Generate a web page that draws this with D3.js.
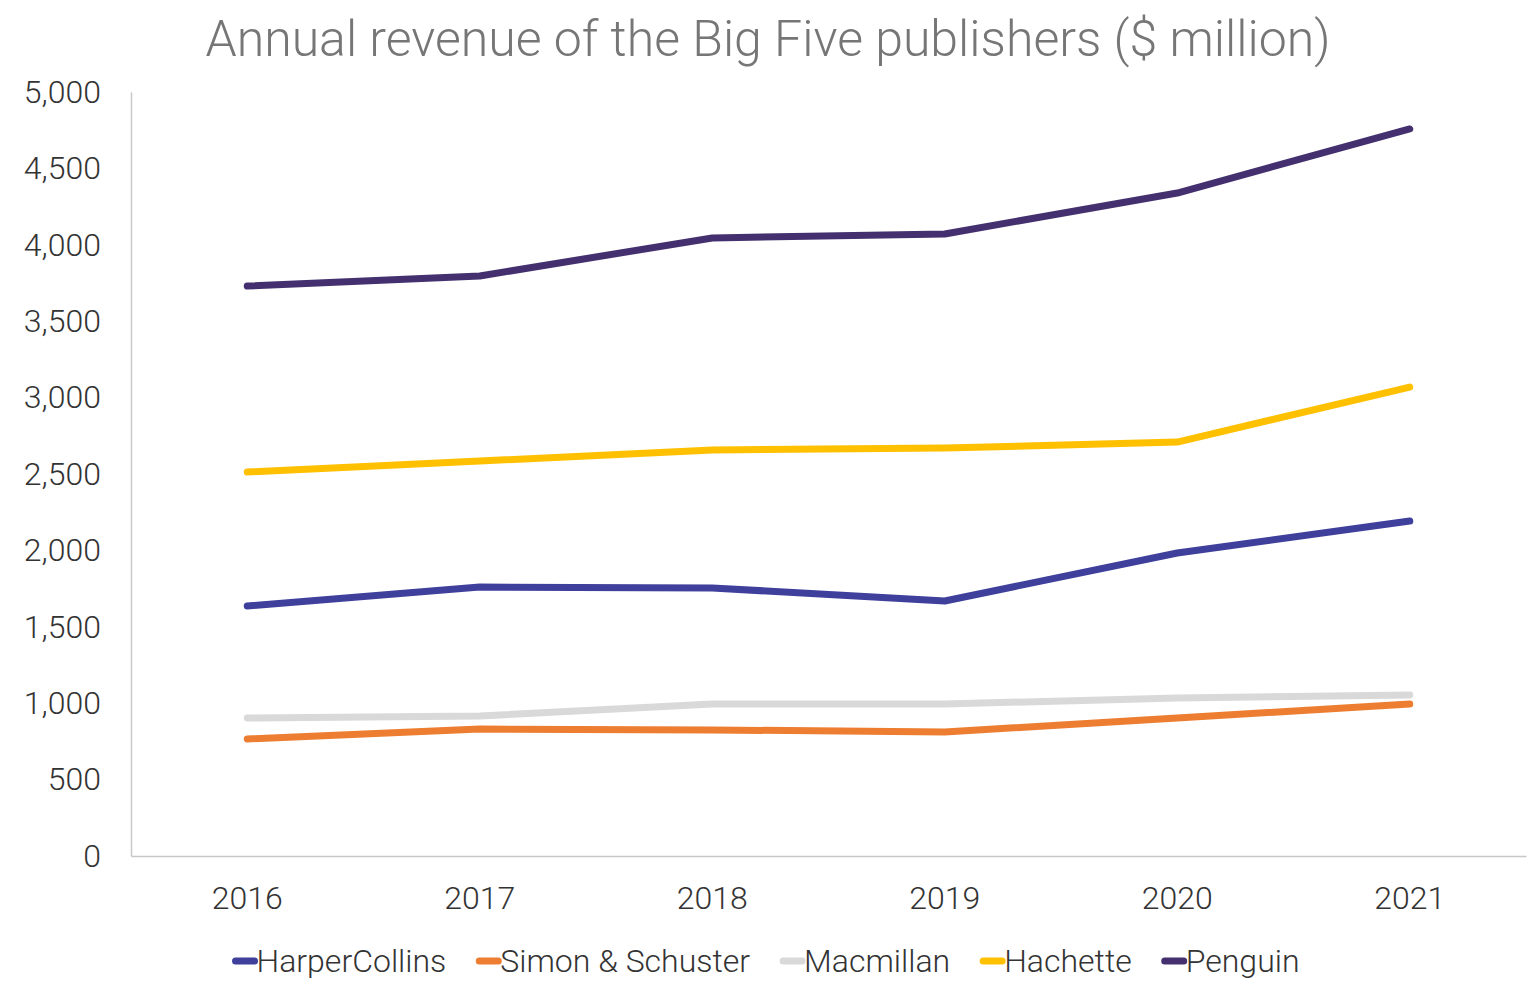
<!DOCTYPE html>
<html>
<head>
<meta charset="utf-8">
<script src="https://cdn.jsdelivr.net/npm/d3@7"></script>
<style>
  body { margin: 0; background: #fff; }
  text { font-family: Roboto, "Noto Sans", sans-serif; font-weight: 300; }
</style>
</head>
<body>
<script>
const years = ["2016", "2017", "2018", "2019", "2020", "2021"];
const publishers = ["HarperCollins", "Simon & Schuster", "Macmillan", "Hachette", "Penguin"];
const harperCollins = [1636, 1760, 1754, 1669, 1983, 2192];
const simonSchuster = [766, 831, 825, 812, 903, 995];
const macmillan = [903, 916, 995, 995, 1034, 1054];
const hachette = [2513, 2585, 2657, 2670, 2709, 3069];
const penguin = [3730, 3796, 4045, 4071, 4339, 4758];
const yTicks = [0, 500, 1000, 1500, 2000, 2500, 3000, 3500, 4000, 4500, 5000];
const colors = ["#3f3f9c", "#ed7d31", "#d9d9d9", "#ffc000", "#44306e"];

const series = [harperCollins, simonSchuster, macmillan, hachette, penguin];

const width = 1536;
const height = 989;
const plotLeft = 131, plotRight = 1526, plotTop = 92, plotBottom = 856;

const svg = d3.select("body")
    .append("svg")
    .attr("width", width)
    .attr("height", height);

const x = d3.scaleBand().domain(years).range([plotLeft, plotRight]);
const y = d3.scaleLinear().domain([0, 5000]).range([plotBottom, plotTop]);

svg.append("text")
    .attr("x", 768).attr("y", 56)
    .attr("text-anchor", "middle")
    .style("font-size", "50px")
    .attr("fill", "#767676")
    .text("Annual revenue of the Big Five publishers ($ million)");

// y axis
const yAxis = svg.append("g")
    .attr("transform", `translate(${plotLeft},0)`)
    .call(d3.axisLeft(y).tickValues(yTicks).tickSize(0).tickPadding(30).tickFormat(d3.format(",")));
yAxis.select(".domain").attr("stroke", "#c8c8c8").attr("stroke-width", 1.5);
yAxis.selectAll("text").style("font-size", "32px").attr("fill", "#333").attr("font-family", null);

// x axis
const xAxis = svg.append("g")
    .attr("transform", `translate(0,${plotBottom})`)
    .call(d3.axisBottom(x).tickSize(0).tickPadding(30));
xAxis.select(".domain").attr("stroke", "#c8c8c8").attr("stroke-width", 1.5);
xAxis.selectAll("text").style("font-size", "32px").attr("fill", "#333").attr("font-family", null);

const line = d3.line()
    .x((d, i) => x(years[i]) + x.bandwidth() / 2)
    .y(d => y(d));

svg.selectAll(".series")
    .data(series)
    .enter()
    .append("path")
    .attr("d", d => line(d))
    .attr("fill", "none")
    .attr("stroke", (d, i) => colors[i])
    .attr("stroke-width", 7)
    .attr("stroke-linecap", "round")
    .attr("stroke-linejoin", "round");

// legend
const legend = svg.append("g");
let lx = 0;
publishers.forEach((p, i) => {
    const g = legend.append("g").attr("transform", `translate(${lx},0)`);
    g.append("line")
        .attr("x1", 3).attr("x2", 22).attr("y1", 0).attr("y2", 0)
        .attr("stroke", colors[i]).attr("stroke-width", 7).attr("stroke-linecap", "round");
    const t = g.append("text")
        .attr("x", 24).attr("y", 11)
        .style("font-size", "32px")
        .attr("fill", "#333")
        .text(p);
    lx += 24 + t.node().getComputedTextLength() + 30;
});
const legendWidth = lx - 30;
legend.attr("transform", `translate(${766 - legendWidth / 2},961)`);
</script>
</body>
</html>
